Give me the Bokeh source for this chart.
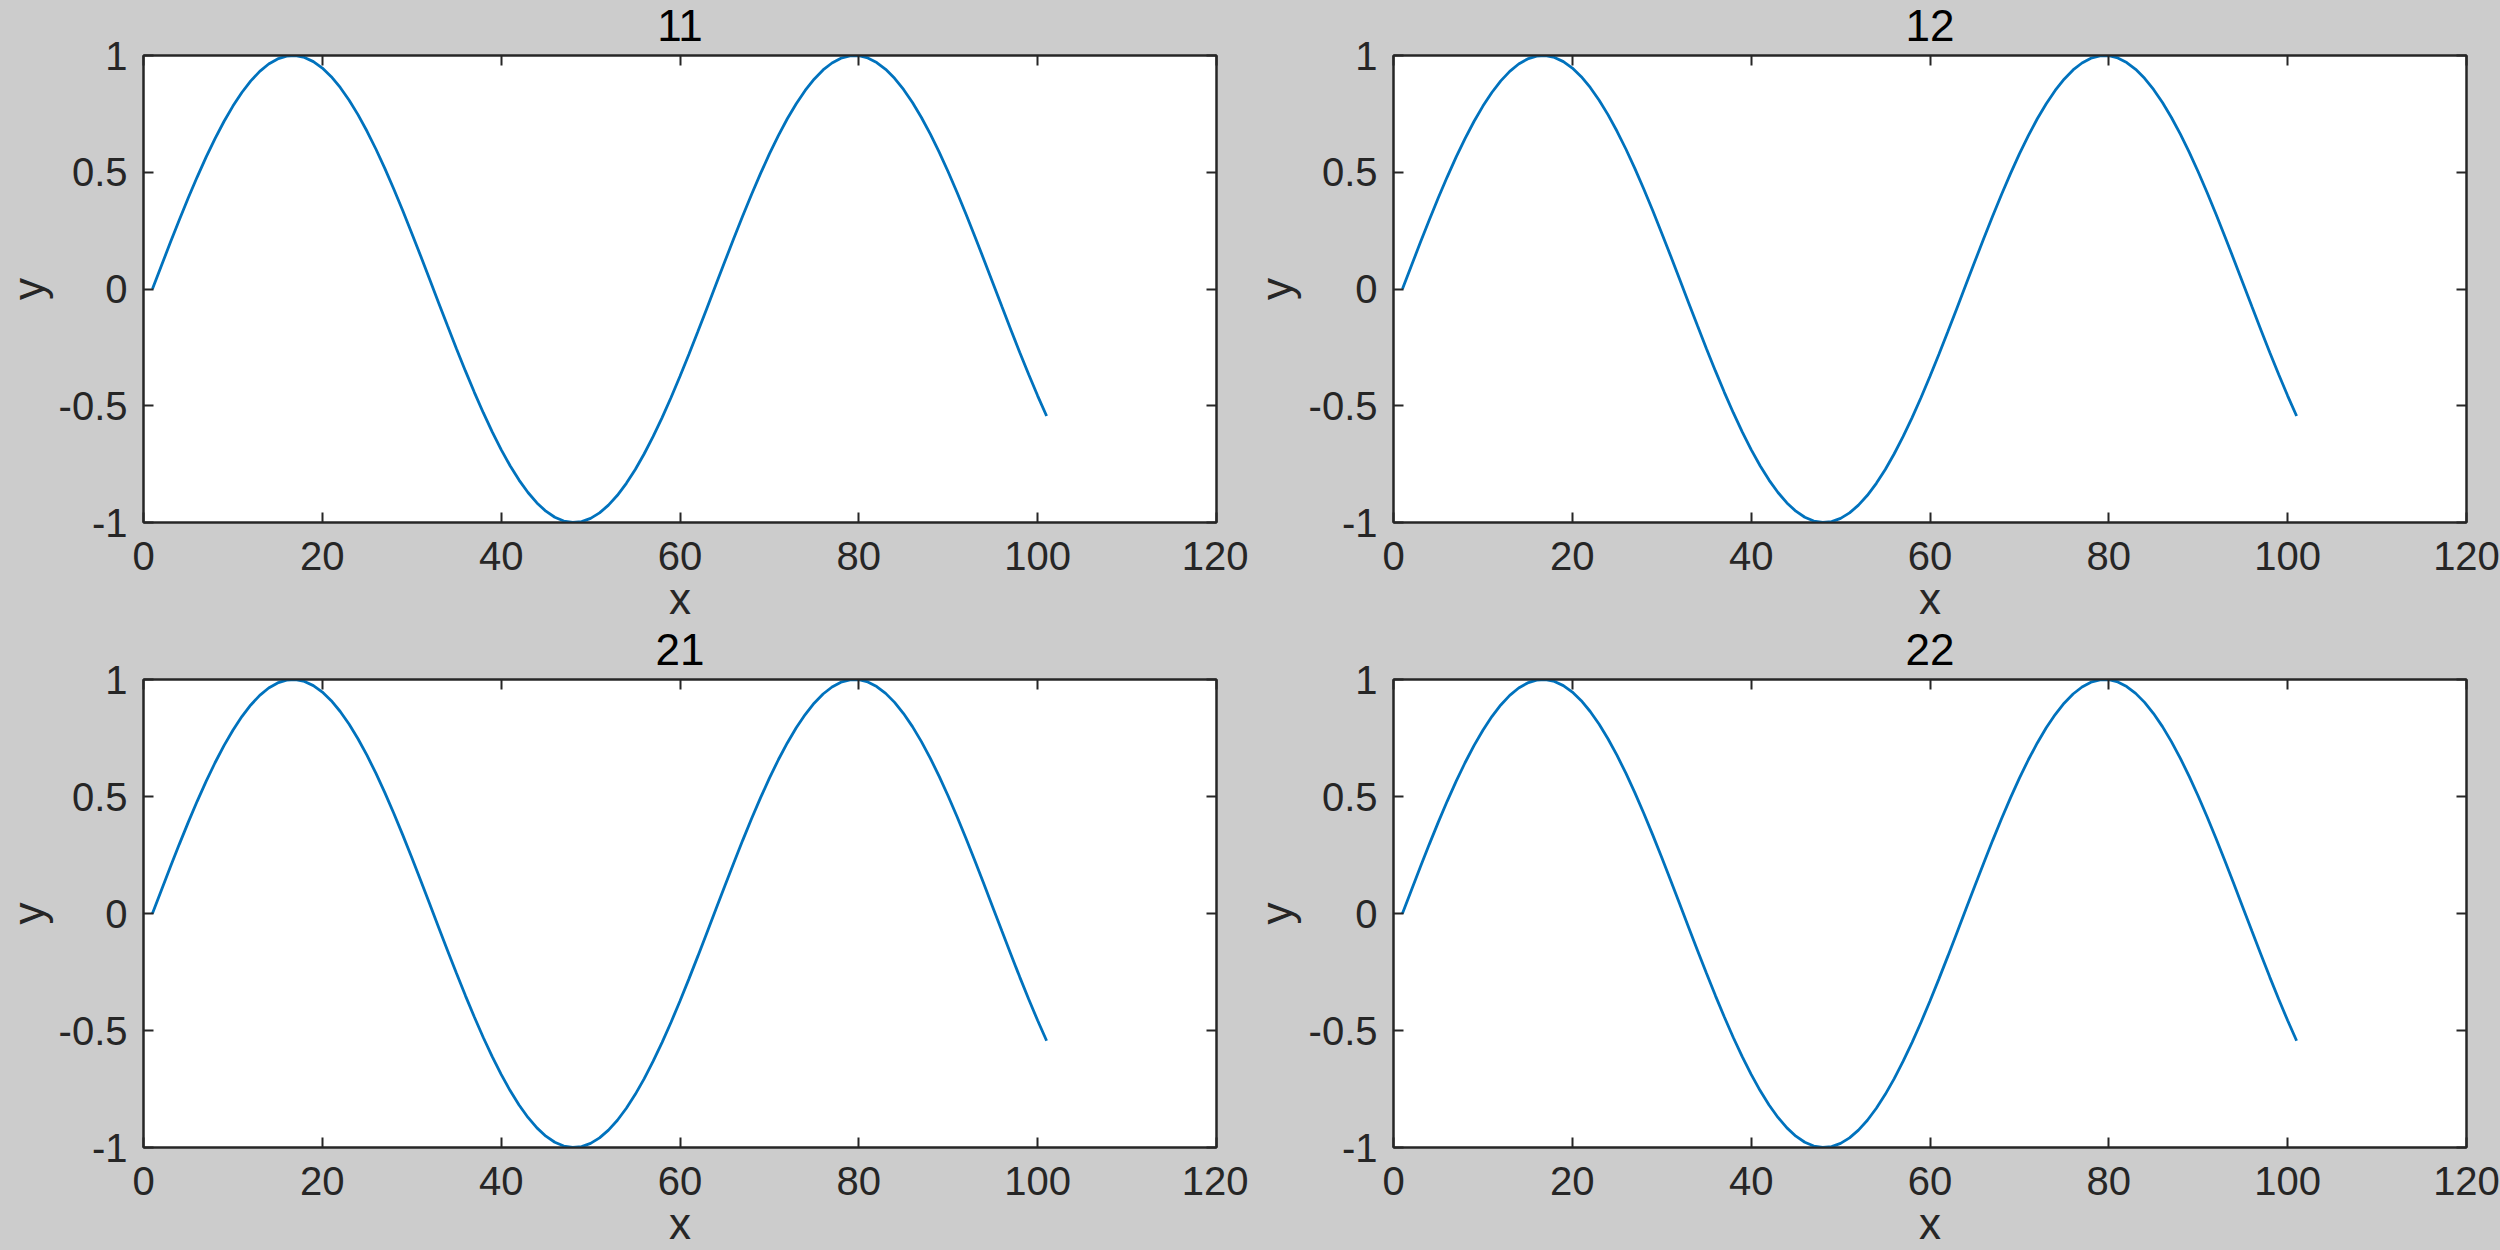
from bokeh.plotting import figure
from bokeh.layouts import gridplot
from bokeh.models import Range1d, FixedTicker, LinearAxis
from bokeh.embed import file_html
from bokeh.resources import INLINE

# ---------------- data ----------------
x_values = list(range(1, 102))
y_values = [
    0.0000, 0.0998, 0.1987, 0.2955, 0.3894, 0.4794, 0.5646, 0.6442, 0.7174, 0.7833,
    0.8415, 0.8912, 0.9320, 0.9636, 0.9854, 0.9975, 0.9996, 0.9917, 0.9738, 0.9463,
    0.9093, 0.8632, 0.8085, 0.7457, 0.6755, 0.5985, 0.5155, 0.4274, 0.3350, 0.2392,
    0.1411, 0.0416, -0.0584, -0.1577, -0.2555, -0.3508, -0.4425, -0.5298, -0.6119, -0.6878,
    -0.7568, -0.8183, -0.8716, -0.9162, -0.9516, -0.9775, -0.9937, -0.9999, -0.9962, -0.9825,
    -0.9589, -0.9258, -0.8835, -0.8323, -0.7728, -0.7055, -0.6313, -0.5507, -0.4646, -0.3739,
    -0.2794, -0.1822, -0.0831, 0.0168, 0.1165, 0.2151, 0.3115, 0.4048, 0.4941, 0.5784,
    0.6570, 0.7290, 0.7937, 0.8504, 0.8987, 0.9380, 0.9679, 0.9882, 0.9985, 0.9989,
    0.9894, 0.9699, 0.9407, 0.9022, 0.8546, 0.7985, 0.7344, 0.6630, 0.5849, 0.5010,
    0.4121, 0.3191, 0.2229, 0.1245, 0.0248, -0.0752, -0.1743, -0.2718, -0.3665, -0.4575,
    -0.5440,
]
x_ticks = [0, 20, 40, 60, 80, 100, 120]
x_tick_labels = ["0", "20", "40", "60", "80", "100", "120"]
y_ticks = [-1, -0.5, 0, 0.5, 1]
y_tick_labels = ["-1", "-0.5", "0", "0.5", "1"]
x_limits = [0, 120]
y_limits = [-1, 1]
titles = [["11", "12"], ["21", "22"]]
x_label = "x"
y_label = "y"

# ---------------- style / geometry ----------------
FONT = "Liberation Sans"
AX = "#262626"
BG = "#cccccc"
LINE = "#0072BD"
TOTAL_W, TOTAL_H = 2500, 1250
FRAME_W, FRAME_H = 1073, 468
COL_SPLIT, ROW_SPLIT = 1248, 625
FRAME_X = [143, 1393]
FRAME_Y = [55, 679]
Y_LABEL_STANDOFF = [3, 5]
X_LABEL_STANDOFF = 1
TITLE_STANDOFF = 15


def style_axis(ax, ticks, labels, show, standoff):
    ax.ticker = FixedTicker(ticks=ticks, minor_ticks=[])
    ax.major_tick_in = 10
    ax.major_tick_out = 0
    ax.minor_tick_in = 0
    ax.minor_tick_out = 0
    ax.axis_line_color = AX
    ax.axis_line_width = 2
    ax.major_tick_line_color = AX
    ax.major_tick_line_width = 2
    ax.major_label_text_font = FONT
    ax.major_label_text_color = AX
    ax.major_label_standoff = standoff
    ax.axis_label_text_font = FONT
    ax.axis_label_text_font_size = "44px"
    ax.axis_label_text_font_style = "normal"
    ax.axis_label_text_color = AX
    if show:
        ax.major_label_overrides = dict(zip(ticks, labels))
        ax.major_label_text_font_size = "40px"
    else:
        ax.major_label_overrides = {t: "" for t in ticks}
        ax.major_label_text_font_size = "1px"


def make(title, col, row):
    x0 = 0 if col == 0 else COL_SPLIT
    x1 = COL_SPLIT if col == 0 else TOTAL_W
    y0 = 0 if row == 0 else ROW_SPLIT
    y1 = ROW_SPLIT if row == 0 else TOTAL_H
    p = figure(
        width=x1 - x0, height=y1 - y0,
        x_range=Range1d(*x_limits), y_range=Range1d(*y_limits),
        output_backend="svg", toolbar_location=None,
        x_axis_location=None, y_axis_location=None,
        min_border_left=FRAME_X[col] - x0,
        min_border_right=x1 - (FRAME_X[col] + FRAME_W),
        min_border_top=FRAME_Y[row] - y0,
        min_border_bottom=y1 - (FRAME_Y[row] + FRAME_H),
        background_fill_color="white", border_fill_color=BG,
        outline_line_color=AX, outline_line_width=2,
    )
    p.grid.visible = False

    below = LinearAxis(axis_label=x_label)
    style_axis(below, x_ticks, x_tick_labels, True, 19)
    below.axis_label_standoff = X_LABEL_STANDOFF
    p.add_layout(below, "below")

    above = LinearAxis(axis_label=title)
    style_axis(above, x_ticks, x_tick_labels, False, 0)
    above.axis_label_standoff = TITLE_STANDOFF
    above.axis_label_text_color = "#000000"
    p.add_layout(above, "above")

    left = LinearAxis(axis_label=y_label)
    style_axis(left, y_ticks, y_tick_labels, True, 16)
    left.axis_label_standoff = Y_LABEL_STANDOFF[col]
    p.add_layout(left, "left")

    right = LinearAxis()
    style_axis(right, y_ticks, y_tick_labels, False, 0)
    p.add_layout(right, "right")

    p.line(x_values, y_values, line_color=LINE, line_width=2.8)
    return p


plots = [[make(titles[r][c], c, r) for c in range(2)] for r in range(2)]
grid = gridplot(plots, toolbar_location=None)

template = ("{% block postamble %}<style>html, body { margin: 0 !important; padding: 0 !important; "
            "background: #cccccc; overflow: hidden; }</style>{% endblock %}")
open("out.html", "w").write(file_html(grid, INLINE, title="subplots", template=template))
